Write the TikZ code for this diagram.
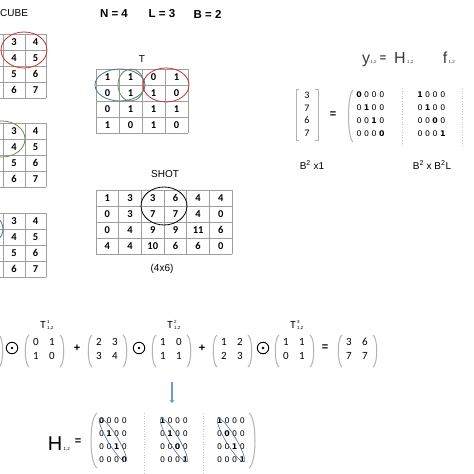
\documentclass[tikz,border=0pt]{standalone}
\usepackage{fontspec}
\setmainfont{Liberation Sans}
\newfontfamily\cellfont{Carlito}
\newfontfamily\bitfont{DejaVu Sans}
\usetikzlibrary{arrows.meta,positioning}
\definecolor{ringred}{RGB}{200,50,50}
\definecolor{ringgreen}{RGB}{105,140,80}
\definecolor{ringblue}{RGB}{80,110,150}
\definecolor{arrowblue}{RGB}{110,155,200}
\definecolor{textgray}{RGB}{60,60,60}
\tikzset{
  gridline/.style={draw=gray!75,line width=0.7pt},
  cell/.style={font=\cellfont\bfseries\fontsize{10.5}{11}\selectfont,inner sep=0pt},
  entry/.style={font=\cellfont\fontsize{11}{12}\selectfont,inner sep=0pt},
  bit/.style={font=\bitfont\fontsize{7.8}{8}\selectfont,inner sep=0pt},
  lbl/.style={font=\fontsize{10}{11}\selectfont,inner sep=0pt},
  param/.style={font=\bfseries\fontsize{11.5}{12}\selectfont,inner sep=0pt},
  eqbig/.style={font=\fontsize{16}{17}\selectfont,text=textgray,inner sep=0pt},
  idx/.style={font=\fontsize{4.5}{5}\selectfont,text=textgray,inner sep=0pt},
  op/.style={font=\bfseries\fontsize{11}{12}\selectfont,inner sep=0pt},
  ring/.style={draw=#1,line width=0.8pt},
  parline/.style={draw=gray!60,line width=1pt},
  dotline/.style={draw=ringblue!40,dotted,line width=0.6pt},
  odot/.style={circle,draw,line width=0.9pt,minimum size=11.5pt,inner sep=0pt,
    path picture={\fill (path picture bounding box.center) circle (1.3pt);}},
  downarrow/.style={draw=arrowblue,line width=2.5pt,-{Stealth[length=3pt,width=5pt]}}
}
% block of bits, diagonal in bold: x, y, name, rows
\newcommand{\bitblock}[4]{%
  \foreach \row [count=\r] in {#4}
    \foreach \v [count=\c] in \row
      \node[bit] (#3\r\c) at (#1+7.6*\c-7.6,#2+12.8*\r-12.8) {\ifnum\c=\r\bfseries\fi\v};
}
% 2x2 matrix in round brackets: x, name, entries
\newcommand{\twobytwo}[6]{%
  \draw[parline] (#1+4,335) .. controls (#1-1,338) and (#1-1,364) .. (#1+4,367);
  \draw[parline] (#1+35,335) .. controls (#1+40,338) and (#1+40,364) .. (#1+35,367);
  \node[entry] (#2a) at (#1+11,342) {#3};
  \node[entry] (#2b) at (#1+27,342) {#4};
  \node[entry] (#2c) at (#1+11,356) {#5};
  \node[entry] (#2d) at (#1+27,356) {#6};
}

\begin{document}
\begin{tikzpicture}[x=1pt,y=-1pt]
  \fill[white] (0,0) rectangle (474,474);
  \clip (0,0) rectangle (474,474);

  % parameters
  \node[lbl,anchor=west] (cube) at (0,13) {CUBE};
  \node[param] (nval) at (114,14) {N = 4};
  \node[param] (lval) at (162,14) {L = 3};
  \node[param] (bval) at (207.5,14) {B = 2};

  % CUBE bands
  \foreach \yo/\ex/\col in {34/24/ringred,123/2/ringgreen,213/-20/ringblue}
  {
    \foreach \yy in {0,16,...,64}
      \draw[gridline] (-20,\yo+\yy) -- (46,\yo+\yy);
    \foreach \xx in {3,25,46}
      \draw[gridline] (\xx,\yo) -- (\xx,\yo+64);
    \foreach \a/\b [count=\r] in {3/4,4/5,5/6,6/7}
    {
      \node[cell] (cu\yo a\r) at (14,\yo+16*\r-8) {\a};
      \node[cell] (cu\yo b\r) at (35.5,\yo+16*\r-8) {\b};
    }
    \draw[ring=\col] (\ex,\yo+16) ellipse (23pt and 18pt);
  }

  % T
  \node[lbl] (tname) at (142,59) {T};
  \foreach \yy in {0,16,...,64}
    \draw[gridline] (96,69+\yy) -- (188,69+\yy);
  \foreach \xx in {96,119,142,165,188}
    \draw[gridline] (\xx,69) -- (\xx,133);
  \foreach \row [count=\r] in {{1,1,0,1},{0,1,1,0},{0,1,1,1},{1,0,1,0}}
    \foreach \v [count=\c] in \row
      \node[cell] (t\r\c) at (84.5+23*\c,61+16*\r) {\v};
  \draw[ring=ringblue] (120,85) ellipse (25pt and 16pt);
  \draw[ring=ringgreen] (131,85) ellipse (13pt and 16pt);
  \draw[ring=ringred] (166,85) ellipse (23pt and 17pt);

  % SHOT
  \node[lbl] (shot) at (165,174) {SHOT};
  \foreach \yy in {0,16,...,64}
    \draw[gridline] (96,190+\yy) -- (232.2,190+\yy);
  \foreach \i in {0,...,6}
    \draw[gridline] (96+22.7*\i,190) -- (96+22.7*\i,254);
  \foreach \row [count=\r] in {{1,3,3,6,4,4},{0,3,7,7,4,0},{0,4,9,9,11,6},{4,4,10,6,6,0}}
    \foreach \v [count=\c] in \row
      \node[cell] (s\r-\c) at (84.65+22.7*\c,182+16*\r) {\v};
  \draw[ring=black] (164,206) ellipse (23pt and 19pt);
  \node[lbl] (shotsize) at (162,269) {(4x6)};

  % y = H f
  \node[eqbig,anchor=base] (yy) at (366,63) {y};
  \node[idx,anchor=base west] (yysub) at (yy.base east) {1,2};
  \node[op,text=textgray] (eqtop) at (383,59) {=};
  \node[eqbig,anchor=base] (hh) at (400,63) {H};
  \node[idx,anchor=base west] (hhsub) at ([xshift=1pt]hh.base east) {1,2};
  \node[eqbig,anchor=base] (ff) at (445,63) {f};
  \node[idx,anchor=base west] (ffsub) at ([xshift=1pt]ff.base east) {1,2};

  % measurement vector
  \draw[parline,line width=0.7pt] (299,89) -- (296,89) -- (296,140) -- (299,140);
  \draw[parline,line width=0.7pt] (315,89) -- (318,89) -- (318,140) -- (315,140);
  \foreach \v [count=\r] in {3,7,6,7}
    \node[entry,font=\cellfont\fontsize{10}{11}\selectfont] (yv\r) at (307,95+12.8*\r-12.8) {\v};
  \node[op] (eqvec) at (333,115) {=};
  \draw[parline] (353,90) .. controls (347,94) and (347,138) .. (353,142);
  \bitblock{359}{95}{ta}{{0,0,0,0},{0,1,0,0},{0,0,1,0},{0,0,0,0}}
  \bitblock{420}{95}{tb}{{1,0,0,0},{0,1,0,0},{0,0,0,0},{0,0,0,1}}
  \draw[dotline] (402,88) -- (402,147);
  \draw[dotline] (462,88) -- (462,147);
  \node[lbl] (dimy) at (312,165) {B\textsuperscript{2} x1};
  \node[lbl] (dimh) at (432,165) {B\textsuperscript{2} x B\textsuperscript{2}L};

  % sum of windows
  \draw[parline] (-1,335) .. controls (4,338) and (4,364) .. (-1,367);
  \node[odot] (od1) at (12,348) {};
  \twobytwo{25}{ma}{0}{1}{1}{0}
  \node[op] (plus1) at (77,348) {+};
  \twobytwo{88}{mb}{2}{3}{3}{4}
  \node[odot] (od2) at (139,348) {};
  \twobytwo{152}{mc}{1}{0}{1}{1}
  \node[op] (plus2) at (202,348) {+};
  \twobytwo{213}{md}{1}{2}{2}{3}
  \node[odot] (od3) at (263,348) {};
  \twobytwo{275}{me}{1}{1}{0}{1}
  \node[op] (eqsum) at (325,348) {=};
  \twobytwo{338}{mf}{3}{6}{7}{7}
  \foreach \k/\tx in {1/43,2/170,3/293}
  {
    \node[entry] (tl\k) at (\tx,325) {T};
    \node[idx,text=black,anchor=south west] (tl\k s) at ([xshift=1pt,yshift=1.3pt]tl\k.east) {\k};
    \node[idx,text=black,anchor=north west] (tl\k i) at ([xshift=1pt,yshift=-1.3pt]tl\k.east) {1,2};
  }

  % arrow
  \coordinate (arrtop) at (172,382);
  \coordinate (arrbot) at (172,403);
  \draw[downarrow] (arrtop) -- (arrbot);

  % H
  \node[eqbig,text=black,font=\fontsize{20}{21}\selectfont,anchor=base] (hbig) at (55,450) {H};
  \node[idx,text=black,anchor=base west] (hbigsub) at ([xshift=1pt]hbig.base east) {1,2};
  \node[op] (eqh) at (78,442) {=};
  \draw[parline] (97,413) .. controls (89,418) and (89,463) .. (97,468);
  \draw[parline] (249,413) .. controls (257,418) and (257,463) .. (249,468);
  \bitblock{101.5}{421}{ha}{{0,0,0,0},{0,1,0,0},{0,0,1,0},{0,0,0,0}}
  \bitblock{162.5}{421}{hb}{{1,0,0,0},{0,1,0,0},{0,0,0,0},{0,0,0,1}}
  \bitblock{219.5}{421}{hc}{{1,0,0,0},{0,0,0,0},{0,0,1,0},{0,0,0,1}}
  \draw[dotline] (144,413) -- (144,474);
  \draw[dotline] (203,413) -- (203,474);
  \foreach \bx in {101.5,162.5,219.5}
    \draw[ring=ringblue,line width=0.6pt,rotate around={-59:(\bx+11.4,440)}]
      (\bx+11.4,440) ellipse (25pt and 5pt);
\end{tikzpicture}
\end{document}
